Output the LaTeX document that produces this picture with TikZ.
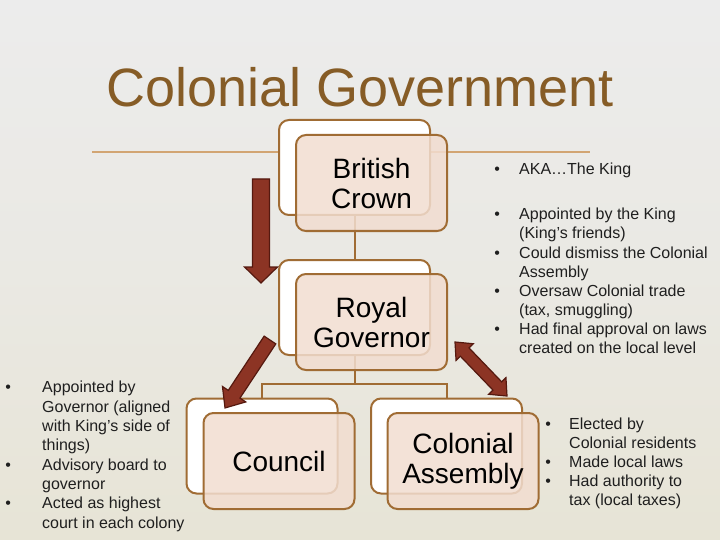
\documentclass[tikz,border=0pt]{standalone}
\usepackage{fontspec}
\setmainfont{Liberation Sans}
\definecolor{bgone}{RGB}{236,236,236}
\definecolor{bgtwo}{RGB}{231,228,214}
\definecolor{titlec}{RGB}{134,92,38}
\definecolor{boxline}{RGB}{160,108,52}
\definecolor{boxfill}{RGB}{242,221,208}
\definecolor{arrfill}{RGB}{140,52,36}
\definecolor{arrline}{RGB}{85,25,15}
\definecolor{rulec}{RGB}{210,165,115}
\newcommand\mybul[1]{\llap{•\hspace{#1}}}
\newcommand\apos{{\char"27}}
\begin{document}
\begin{tikzpicture}[x=1pt,y=-1pt,
  backbox/.style={draw=boxline, line width=2pt, fill=white, rounded corners=10pt,
    minimum width=151pt, minimum height=95pt, inner sep=0pt},
  frontbox/.style={draw=boxline, line width=2pt, fill=boxfill, fill opacity=0.85,
    text opacity=1, rounded corners=10pt, minimum width=151pt, minimum height=96pt,
    align=center, font=\fontsize{28}{30}\selectfont, inner sep=0pt},
  link/.style={draw=boxline, line width=2pt},
  bigarrow/.style={fill=arrfill, draw=arrline, line width=1.2pt, line join=miter},
  listtext/.style={anchor=north west, inner sep=0pt, align=left, text=black!88},
]
\shade[top color=bgone, bottom color=bgtwo, middle color=bgone!60!bgtwo] (0,0) rectangle (720,540);
\useasboundingbox (0,0) rectangle (720,540);

% title
\node[anchor=base, text=titlec, font=\fontsize{54}{60}\selectfont, inner sep=0pt]
  (title) at (360,107) {Colonial Government};
\coordinate (ruleL) at (92,152);
\coordinate (ruleR) at (590,152);
\draw[draw=rulec, line width=1.5pt] (ruleL) -- (ruleR);

% back boxes
\node[backbox] (crownB) at (354.5,167.5) {};
\node[backbox] (royalB) at (354.5,307.5) {};
\node[backbox] (councilB) at (262,446) {};
\node[backbox] (assemblyB) at (446.5,446) {};

% connectors
\coordinate (junc) at (354.5,384);
\draw[link] (crownB.south) -- (royalB.north);
\draw[link] (royalB.south) -- (junc) -| (councilB.north);
\draw[link] (junc) -| (assemblyB.north);

% front boxes
\node[frontbox] (crownF) at (371.5,183) {British\\Crown};
\node[frontbox] (royalF) at (371.5,322) {Royal\\Governor};
\node[frontbox] (councilF) at (279,461) {Council};
\node[frontbox] (assemblyF) at (463,461) {Colonial\\Assembly};

% big arrows
\begin{scope}[shift={(261,179)}, rotate=-90]
  \draw[bigarrow] (0,-8.5) -- (88,-8.5) -- (88,-16.5) -- (104,0) -- (88,16.5) -- (88,8.5) -- (0,8.5) -- cycle;
\end{scope}
\begin{scope}[shift={(270,340)}, rotate=-123.5]
  \draw[bigarrow] (0,-7) -- (65,-7) -- (65,-14) -- (81.5,0) -- (65,14) -- (65,7) -- (0,7) -- cycle;
\end{scope}
\begin{scope}[shift={(455,342)}, rotate=-46.1]
  \draw[bigarrow] (0,0) -- (14,-12) -- (14,-6) -- (61,-6) -- (61,-12) -- (75,0) -- (61,12) -- (61,6) -- (14,6) -- (14,12) -- cycle;
\end{scope}

% lists
\node[listtext, font=\fontsize{16}{19}\selectfont] (kingnote) at (519,161.4)
  {\strut\mybul{19.2pt}AKA…The King};
\node[listtext, font=\fontsize{16}{19.1}\selectfont] (govnote) at (519,206.3)
  {\strut\mybul{19.2pt}Appointed by the King\\
   (King\apos s friends)\\
   \mybul{19.2pt}Could dismiss the Colonial\\
   Assembly\\
   \mybul{19.2pt}Oversaw Colonial trade\\
   (tax, smuggling)\\
   \mybul{19.2pt}Had final approval on laws\\
   created on the local level};
\node[listtext, font=\fontsize{16}{19.3}\selectfont] (councilnote) at (42,379.2)
  {\strut\mybul{31.2pt}Appointed by\\
   Governor (aligned\\
   with King\apos s side of\\
   things)\\
   \mybul{31.2pt}Advisory board to\\
   governor\\
   \mybul{31.2pt}Acted as highest\\
   court in each colony};
\node[listtext, font=\fontsize{16}{19}\selectfont] (assemblynote) at (569,416.4)
  {\strut\mybul{18.2pt}Elected by\\
   Colonial residents\\
   \mybul{18.2pt}Made local laws\\
   \mybul{18.2pt}Had authority to\\
   tax (local taxes)};
\end{tikzpicture}
\end{document}
